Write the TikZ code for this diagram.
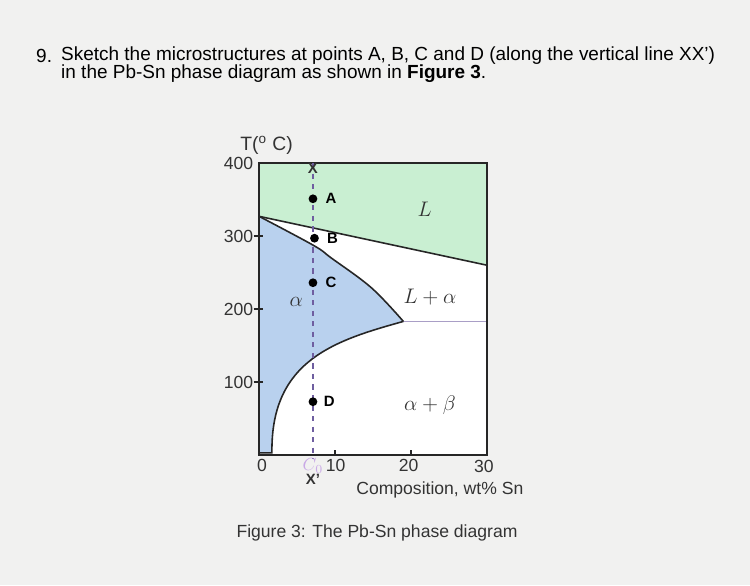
\documentclass[tikz,border=0pt]{standalone}
\usepackage{fontspec}
\setmainfont{Liberation Sans}
\usetikzlibrary{positioning}
\definecolor{liqgreen}{HTML}{C9EFD2}
\definecolor{alphablue}{HTML}{B9D1EE}
\definecolor{xxpurple}{HTML}{6F5EA0}
\definecolor{czero}{HTML}{C9A9E6}
\definecolor{paper}{HTML}{F1F1F0}
\tikzset{phaseline/.style={draw=black!85,line width=0.9pt},
         axistick/.style={draw=black!85,line width=0.7pt},
         dotpoint/.style={circle,fill=black,inner sep=0pt,minimum size=5pt},
         ptlabel/.style={font=\bfseries\fontsize{8.5}{9}\selectfont},
         numlabel/.style={font=\fontsize{10}{11}\selectfont,text=black!80},
         phaselabel/.style={font=\fontsize{13}{14}\selectfont,text=black!80}}

\begin{document}
\begin{tikzpicture}[x=0.02cm,y=-0.02cm]
        \fill[paper](0,0)rectangle(750,585);
        \useasboundingbox(0,0)rectangle(750,585);

        \node[anchor=west,font=\fontsize{10.8}{12}\selectfont](qnum)at(30,56){9.};
        \node[anchor=west,font=\fontsize{10.8}{12}\selectfont](qline1)at(55,56){Sketch the microstructures at points A, B, C and D (along the vertical line XX')};
        \node[anchor=west,font=\fontsize{10.8}{12}\selectfont](qline2)at(55,74){in the Pb-Sn phase diagram as shown in \textbf{Figure 3}.};
        \node[font=\fontsize{10}{12}\selectfont,text=black!80](caption)at(377,533){Figure 3: The Pb-Sn phase diagram};

    \begin{scope}[shift={(259,455)},x=0.152cm,y=0.0146cm]
        \fill[white](0,0)rectangle(30,400);
        \fill[liqgreen](0,400)--(30,400)--(30,260)--(0,327)--cycle;
        \fill[alphablue](0,3)--(0,327)
            --plot[smooth,tension=0.6]coordinates{(0,327)(7.2,287)(9.5,270)(14.8,229)(19,183)}
            ..controls(10,157)and(1.7,130)..(1.7,7)
            --(1.7,3)--cycle;
        \draw[draw=xxpurple!60,line width=0.6pt](19,183)--(30,183);
        \draw[phaseline](0,327)--(30,260);
        \draw[phaseline]plot[smooth,tension=0.6]coordinates{(0,327)(7.2,287)(9.5,270)(14.8,229)(19,183)};
        \draw[phaseline](19,183)..controls(10,157)and(1.7,130)..(1.7,7)--(1.7,3)--(0,3);
        \draw[phaseline](0,0)rectangle(30,400);

        \foreach \t in {100,200,300}
            \draw[axistick](-0.7,\t)--(0.5,\t);
        \foreach \c in {10,20}
            \draw[axistick](\c,0)--(\c,7);
        \foreach \t in {100,200,300,400}
            \node[numlabel,anchor=east,inner sep=1pt](t\t)at(-0.5,\t){\t};
        \node[numlabel](c0)at(0.4,-14){0};
        \node[numlabel](c10)at(10.1,-14){10};
        \node[numlabel](c20)at(19.7,-14){20};
        \node[numlabel](c30)at(29.6,-15){30};
        \node[numlabel,font=\fontsize{11}{12}\selectfont,anchor=south west,inner sep=0pt](tlabel)at(-2.5,411){T(\textsuperscript{o} C)};
        \node[numlabel](complabel)at(23.8,-48){Composition, wt\% Sn};

        \draw[xxpurple,dashed,line width=0.7pt](7.1,400)--(7.1,-5);
        \node[font=\bfseries\fontsize{8.5}{9}\selectfont,text=black!80](xtop)at(7.1,392){X};
        \node[font=\fontsize{10}{10}\selectfont,text=czero,inner sep=0pt](czerolabel)at(7.1,-15){$C_0$};
        \node[font=\bfseries\fontsize{8.5}{9}\selectfont,text=black!80](xbot)at(7.1,-34){X'};

        \node[dotpoint,label={[ptlabel,xshift=1pt]right:A}](ptA)at(7.1,351){};
        \node[dotpoint,label={[ptlabel,xshift=1pt]right:B}](ptB)at(7.3,297){};
        \node[dotpoint,label={[ptlabel,xshift=1pt]right:C}](ptC)at(7.1,236){};
        \node[dotpoint,label={[ptlabel]right:D}](ptD)at(7.1,73){};

        \node[phaselabel](liq)at(21.8,336){$L$};
        \node[phaselabel](liqalpha)at(22.5,216){$L+\alpha$};
        \node[phaselabel](alpha)at(4.9,210){$\alpha$};
        \node[phaselabel](alphabeta)at(22.5,68){$\alpha+\beta$};
    \end{scope}
\end{tikzpicture}
\end{document}
